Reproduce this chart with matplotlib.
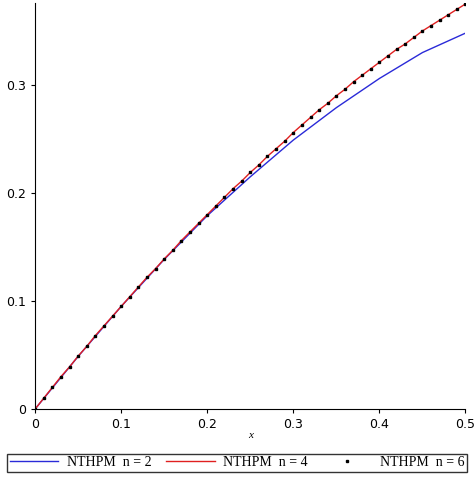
import matplotlib.pyplot as plt
from matplotlib.ticker import FuncFormatter
from matplotlib.lines import Line2D

# NTHPM n=4 and n=6 (same curve), sampled at 0.01
x6 = [i / 100 for i in range(51)]
y6 = [0, .010, .020, .030, .039, .049, .058, .068, .077, .086, .095,
      .104, .113, .122, .130, .139, .147, .156, .164, .172, .180,
      .188, .196, .204, .211, .219, .226, .234, .241, .248, .256,
      .263, .270, .277, .283, .290, .296, .303, .309, .315, .321,
      .327, .333, .338, .344, .350, .355, .360, .365, .370, .375]
# NTHPM n=2
x2 = [0, .05, .1, .15, .2, .25, .3, .35, .4, .45, .5]
y2 = [0, .0487, .095, .1385, .179, .215, .249, .279, .306, .330, .348]

fig = plt.figure(figsize=(4.74, 4.79), dpi=100)
ax = fig.add_axes([0.074, 0.146, 0.908, 0.848])
ax.plot(x2, y2, color="#2a2ad8", lw=1)
ax.plot(x6, y6, color="#e02020", lw=1)
ax.plot(x6, y6, "s", color="black", ms=1.6, lw=0)
ax.set_xlim(0, 0.5)
ax.set_ylim(0, 0.376)
ax.set_xticks([0, 0.1, 0.2, 0.3, 0.4, 0.5])
ax.set_yticks([0, 0.1, 0.2, 0.3])
fmt = FuncFormatter(lambda v, p: "0" if v == 0 else f"{v:g}")
ax.xaxis.set_major_formatter(fmt)
ax.yaxis.set_major_formatter(fmt)
for s in ["top", "right"]:
    ax.spines[s].set_visible(False)
ax.tick_params(labelsize=9, length=3)
ax.set_xlabel("x", style="italic", fontsize=8, labelpad=0,
              family="Liberation Serif")

handles = [Line2D([], [], color="#2a2ad8", lw=1),
           Line2D([], [], color="#e02020", lw=1),
           Line2D([], [], color="black", marker="s", ms=2, lw=0)]
labels = ["NTHPM  n = 2", "NTHPM  n = 4", "NTHPM  n = 6"]
fig.legend(handles, labels, loc="lower left", bbox_to_anchor=(0.0, 0.0, 1.0, 0.05),
           mode="expand", ncol=3, frameon=True, fancybox=False,
           prop={"family": "Liberation Serif", "size": 10},
           edgecolor="black", borderpad=0.2, handlelength=3.5, handletextpad=0.6)
fig.savefig("out.png", dpi=100)
